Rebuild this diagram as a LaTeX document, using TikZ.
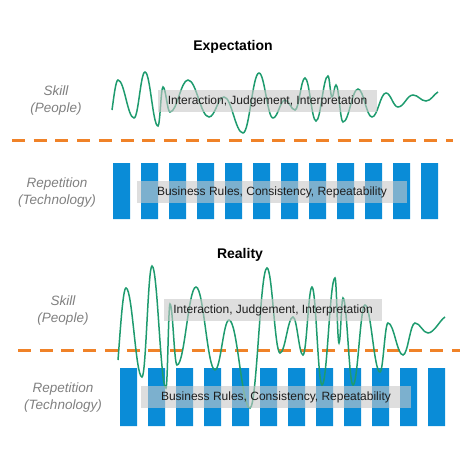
\documentclass[tikz,border=0pt]{standalone}
\usepackage{fontspec}
\setmainfont{Liberation Sans}
\usepackage{tikz}
\usepackage{xcolor}

\begin{document}
\begin{tikzpicture}[x=1pt,y=1pt,yscale=-1,xscale=1,
    bar/.style={fill={rgb, 255:red, 10; green, 140; blue, 215 }},
    divider/.style={draw={rgb, 255:red, 240; green, 130; blue, 40 },line width=3pt,dash pattern=on 13pt off 8.7pt},
    wave/.style={draw={rgb, 255:red, 30; green, 155; blue, 110 },line width=1.5pt},
    sidelabel/.style={align=center,inner sep=0.75pt,text={rgb, 255:red, 128; green, 128; blue, 128 },font=\fontsize{13.5}{17}\selectfont\itshape},
    headline/.style={inner sep=0.75pt,font=\fontsize{14}{16}\selectfont\bfseries},
    tagbox/.style={fill={rgb, 255:red, 200; green, 200; blue, 200 },fill opacity=0.6,text opacity=1,text={rgb, 255:red, 30; green, 30; blue, 30 },inner sep=0pt,minimum height=22pt,font=\fontsize{12}{14}\selectfont}]
        \useasboundingbox (0,0) rectangle (474,474);

        % Text Node
        \node [headline] (expTitle) at (233,47) {Expectation};
        % Text Node
        \node [sidelabel] (expSkill) at (56,101) {Skill\\(People)};
        % Text Node
        \node [sidelabel] (expRep) at (57,193) {Repetition\\(Technology)};

        %Shape: Bars [id:expBars]
        \fill [bar] (113,163) rectangle (130,219) (141,163) rectangle (158,219) (169,163) rectangle (186,219) (197,163) rectangle (214,219) (225,163) rectangle (242,219) (253,163) rectangle (270,219) (281,163) rectangle (298,219) (309,163) rectangle (326,219) (337,163) rectangle (354,219) (365,163) rectangle (382,219) (393,163) rectangle (410,219) (421,163) rectangle (438,219) ;
        %Straight Lines [id:expDivider]
        \draw [divider] (12,140) -- (453,140) ;
        %Curve Lines [id:expWave]
        \draw [wave] (112,110) .. controls (113.5,100) and (115.6,80) .. (118,80) .. controls (124.4,80) and (127.6,118) .. (134,118) .. controls (138.4,118) and (140.6,72) .. (145,72) .. controls (150.2,72) and (152.8,126) .. (158,126) .. controls (160,126) and (161,87) .. (163,87) .. controls (165.8,87) and (167.2,112) .. (170,112) .. controls (177.2,112) and (180.8,80) .. (188,80) .. controls (196.4,80) and (200.6,117) .. (209,117) .. controls (215,117) and (218,97) .. (224,97) .. controls (231.6,97) and (235.4,133) .. (243,133) .. controls (249.4,133) and (252.6,73) .. (259,73) .. controls (264.6,73) and (267.4,118) .. (273,118) .. controls (277.8,118) and (280.2,100) .. (285,100) .. controls (289,100) and (291,110) .. (295,110) .. controls (299,110) and (301,78) .. (305,78) .. controls (309.4,78) and (311.6,121) .. (316,121) .. controls (320.8,121) and (323.2,76) .. (328,76) .. controls (329.6,76) and (330.4,97) .. (332,97) .. controls (333.6,97) and (334.4,85) .. (336,85) .. controls (338.8,85) and (340.2,122) .. (343,122) .. controls (349,122) and (352,89) .. (358,89) .. controls (363.6,89) and (366.4,117) .. (372,117) .. controls (377.6,117) and (380.4,93) .. (386,93) .. controls (390.8,93) and (393.2,107) .. (398,107) .. controls (404,107) and (407,95) .. (413,95) .. controls (418.2,95) and (420.8,101) .. (426,101) .. controls (431,101) and (434,94) .. (438,92) ;

        %Shape: Rectangle with text [id:expSkillBox]
        \node [tagbox,minimum width=219pt] (expSkillBox) at (267.5,101) {Interaction, Judgement, Interpretation};
        %Shape: Rectangle with text [id:expRepBox]
        \node [tagbox,minimum width=270pt] (expRepBox) at (272,192) {Business Rules, Consistency, Repeatability};

        % Text Node
        \node [headline] (realTitle) at (240,255) {Reality};
        % Text Node
        \node [sidelabel] (realSkill) at (63,311) {Skill\\(People)};
        % Text Node
        \node [sidelabel] (realRep) at (63,398) {Repetition\\(Technology)};

        %Shape: Bars [id:realBars]
        \fill [bar] (120,368) rectangle (137,426) (148,368) rectangle (165,426) (176,368) rectangle (193,426) (204,368) rectangle (221,426) (232,368) rectangle (249,426) (260,368) rectangle (277,426) (288,368) rectangle (305,426) (316,368) rectangle (333,426) (344,368) rectangle (361,426) (372,368) rectangle (389,426) (400,368) rectangle (417,426) (428,368) rectangle (445,426) ;
        %Straight Lines [id:realDivider]
        \draw [divider] (18,350) -- (460,350) ;
        %Curve Lines [id:realWave]
        \draw [wave] (118,360) .. controls (120,335) and (122.8,288) .. (126,288) .. controls (132.4,288) and (135.6,377) .. (142,377) .. controls (146,377) and (148,266) .. (152,266) .. controls (157.6,266) and (160.4,388) .. (166,388) .. controls (167.6,388) and (168.4,304) .. (170,304) .. controls (172.8,304) and (174.2,365) .. (177,365) .. controls (184.6,365) and (188.4,287) .. (196,287) .. controls (203.6,287) and (207.4,370) .. (215,370) .. controls (220.6,370) and (223.4,320) .. (229,320) .. controls (237.4,320) and (241.6,408) .. (250,408) .. controls (256.8,408) and (260.2,268) .. (267,268) .. controls (272.2,268) and (274.8,353) .. (280,353) .. controls (285.2,353) and (287.8,317) .. (293,317) .. controls (297,317) and (299,355) .. (303,355) .. controls (306.6,355) and (308.4,287) .. (312,287) .. controls (316,287) and (318,385) .. (322,385) .. controls (327.2,385) and (329.8,278) .. (335,278) .. controls (336.6,278) and (337.4,343) .. (339,343) .. controls (340.6,343) and (341.4,298) .. (343,298) .. controls (347,298) and (349,385) .. (353,385) .. controls (357.8,385) and (360.2,305) .. (365,305) .. controls (371,305) and (374,372) .. (380,372) .. controls (383.2,372) and (384.8,323) .. (388,323) .. controls (394,323) and (397,355) .. (403,355) .. controls (407.8,355) and (410.2,323) .. (415,323) .. controls (420.2,323) and (422.8,333) .. (428,333) .. controls (434,333) and (440,320) .. (445,317) ;

        %Shape: Rectangle with text [id:realSkillBox]
        \node [tagbox,minimum width=218pt] (realSkillBox) at (273,310) {Interaction, Judgement, Interpretation};
        %Shape: Rectangle with text [id:realRepBox]
        \node [tagbox,minimum width=270pt] (realRepBox) at (276,397) {Business Rules, Consistency, Repeatability};

\end{tikzpicture}
\end{document}
